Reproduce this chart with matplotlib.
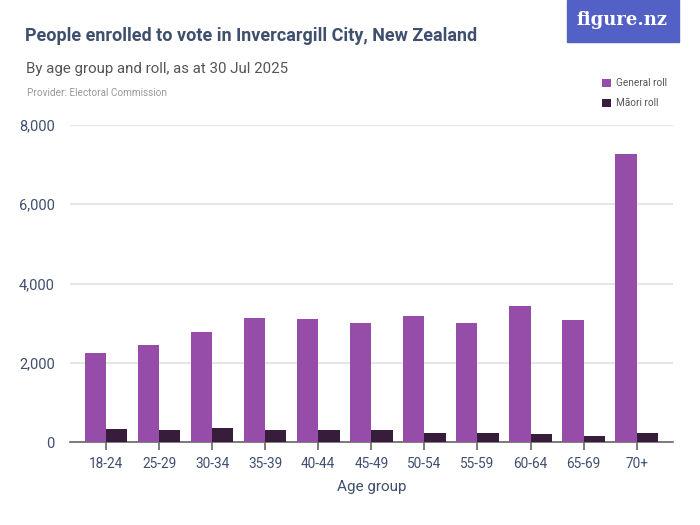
import matplotlib
matplotlib.use("Agg")
import matplotlib.pyplot as plt
import numpy as np

plt.rcParams['font.family'] = ['Roboto', 'DejaVu Sans']

categories = ["18-24", "25-29", "30-34", "35-39", "40-44", "45-49",
              "50-54", "55-59", "60-64", "65-69", "70+"]
general_roll = [2237, 2446, 2774, 3127, 3102, 3001, 3185, 3009, 3430, 3085, 7263]
maori_roll = [320, 295, 353, 310, 302, 300, 227, 227, 202, 160, 227]
yticks = [0, 2000, 4000, 6000, 8000]
ytick_labels = ["0", "2,000", "4,000", "6,000", "8,000"]

title_col = "#3f4f6e"
fig = plt.figure(figsize=(7, 5.25), dpi=100)
ax = fig.add_axes([0.1, 0.158, 0.861, 0.604])

x = np.arange(len(categories))
w = 0.4
ax.bar(x - w/2, general_roll, width=w, color="#964ca9", label="General roll", zorder=3)
ax.bar(x + w/2, maori_roll, width=w, color="#371d3b", label="Māori roll", zorder=3)

ax.set_xlim(-0.68, len(categories) - 1 + 0.68)
ax.set_ylim(0, 8000)
ax.set_yticks(yticks)
ax.set_yticklabels(ytick_labels)
ax.set_xticks(x)
ax.set_xticklabels(categories)
ax.grid(axis="y", color="#e6e6e6", linewidth=1.5, zorder=0)
for s in ["top", "right", "left"]:
    ax.spines[s].set_visible(False)
ax.spines["bottom"].set_color("#666666")
ax.spines["bottom"].set_linewidth(1.2)
ax.tick_params(axis="y", length=0, labelsize=10.5, labelcolor=title_col, pad=11)
ax.tick_params(axis="x", length=6, width=1.2, color="#666666", labelsize=9.8,
               labelcolor=title_col, pad=5)
ax.set_xlabel("Age group", fontsize=11, color=title_col, labelpad=6)

fig.text(0.036, 0.932, "People enrolled to vote in Invercargill City, New Zealand",
         fontsize=13, fontweight="bold", color=title_col, va="center")
fig.text(0.037, 0.868, "By age group and roll, as at 30 Jul 2025",
         fontsize=10.8, color="#555555", va="center")
fig.text(0.038, 0.822, "Provider: Electoral Commission",
         fontsize=7.2, color="#999999", va="center")

leg = fig.legend(loc="upper left", bbox_to_anchor=(0.847, 0.868), frameon=False,
                 fontsize=7.2, handlelength=0.9, handleheight=0.9, handletextpad=0.5,
                 labelspacing=1.0, labelcolor="#555555")

# logo
fig.patches.append(matplotlib.patches.Rectangle((567/700, 1 - 42/525), 112/700, 42/525,
                   transform=fig.transFigure, color="#5361c6", zorder=0))
fig.text(622/700, 1 - 20/525, "figure.nz", fontsize=13, fontweight="bold",
         color="white", ha="center", va="center", family="DejaVu Serif")

fig.savefig("out.png", dpi=100, facecolor="white")
